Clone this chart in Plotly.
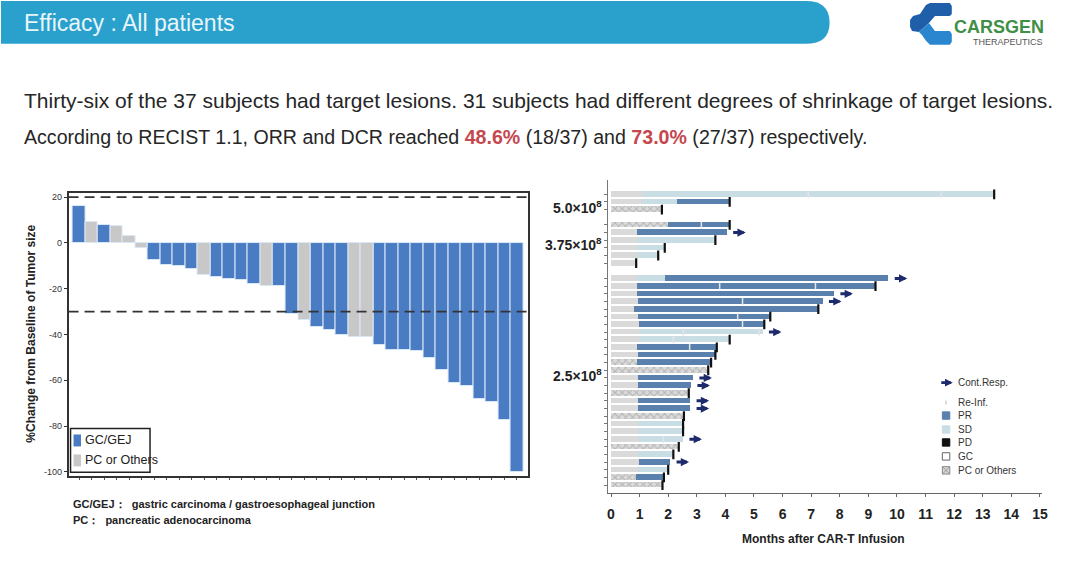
import plotly.graph_objects as go

W, H = 1080, 577
def px(x): return x / W
def py(y): return 1 - y / H

FONT = "Liberation Sans, Arial, sans-serif"
NARROW = "Liberation Sans Narrow, Arial Narrow, Liberation Sans, Arial, sans-serif"

# ---------------- Waterfall data ----------------
wf_values = [16, 9, 8, 7.6, 3.2, -2, -7.5, -9.8, -10.2, -11.4, -13.9, -15, -15.9, -16.1,
             -17.8, -19, -19, -31.1, -33.6, -36.7, -38.2, -40.4, -41.1, -41.1, -44.4,
             -46.6, -46.9, -47, -50.1, -55.6, -61.3, -62.4, -68.1, -69.3, -77.3, -100]
wf_types = ["GC", "PC", "GC", "PC", "PC", "PC", "GC", "GC", "GC", "GC", "PC", "GC",
            "GC", "GC", "GC", "PC", "GC", "GC", "PC", "GC", "GC", "GC", "PC", "PC",
            "GC", "GC", "GC", "GC", "GC", "GC", "GC", "GC", "GC", "GC", "GC", "GC"]
wf_type_names = {"GC": "GC/GEJ", "PC": "PC or Others"}
wf_ref_lines = [20, -30]
wf_yticks = [20, 0, -20, -40, -60, -80, -100]

# ---------------- Swimmer data ----------------
sw_dose_labels = ["5.0×10<sup>8</sup>", "3.75×10<sup>8</sup>", "2.5×10<sup>8</sup>"]
sw_dose_label_slot = [1.6, 6.5, 23.6]
sw_dose_counts = [3, 6, 28]
sw_kind = ["GC", "GC", "PC",
           "PC", "GC", "GC", "GC", "GC", "GC",
           "GC", "GC", "GC", "GC", "GC", "GC", "GC", "GC", "GC", "GC", "GC", "PC", "PC",
           "GC", "GC", "PC", "GC", "GC", "PC", "GC", "GC", "GC", "PC", "GC", "GC", "GC",
           "PC", "PC"]
sw_pre_end = [1.13, 1.1, 1.78,
              2.0, 0.9, 0.9, 0.9, 0.9, 0.88,
              0.9, 0.9, 0.9, 0.95, 0.8, 0.95, 0.97, 0.97, 0.97, 0.9, 0.95, 0.9, 3.4,
              0.95, 0.95, 2.72, 0.95, 0.95, 2.55, 0.95, 0.95, 0.95, 2.37, 0.95, 0.97, 0.95,
              0.87, 1.8]
sw_sd_end = [13.4, 2.3, 1.78,
             2.0, 0.9, 3.65, 1.88, 1.65, 0.88,
             1.9, 0.9, 0.9, 0.95, 0.8, 0.95, 0.97, 5.3, 4.15, 0.9, 0.95, 0.9, 3.4,
             0.95, 0.95, 2.72, 0.95, 0.95, 2.55, 2.52, 2.52, 2.52, 2.37, 2.18, 0.97, 2.0,
             0.87, 1.8]
sw_pr_end = [13.4, 4.15, 1.78,
             4.15, 4.05, 3.65, 1.88, 1.65, 0.88,
             9.7, 9.25, 7.8, 7.4, 7.25, 5.57, 5.36, 5.3, 4.15, 3.7, 3.65, 3.5, 3.4,
             2.87, 2.8, 2.72, 2.77, 2.77, 2.55, 2.52, 2.52, 2.52, 2.37, 2.18, 2.07, 2.0,
             1.85, 1.8]
sw_pd = [1, 1, 1,
         1, 0, 1, 1, 1, 1,
         0, 1, 0, 0, 1, 1, 1, 0, 1, 1, 1, 1, 1,
         0, 0, 1, 0, 0, 1, 1, 1, 0, 1, 1, 0, 1,
         1, 1]
sw_cont = [0, 0, 0,
           0, 1, 0, 0, 0, 0,
           1, 0, 1, 1, 0, 0, 0, 1, 0, 0, 0, 0, 0,
           1, 1, 0, 1, 1, 0, 0, 0, 1, 0, 0, 1, 0,
           0, 0]
sw_reinf_row = [0, 0, 3, 10, 10, 12, 14, 15, 16, 16, 17, 18, 30]
sw_reinf_x = [6.9, 11.55, 3.16, 3.8, 7.15, 4.6, 4.43, 4.6, 2.53, 5.18, 2.18, 2.75, 1.83]
sw_xticks = list(range(0, 16))
sw_legend = ["Cont.Resp.", "Re-Inf.", "PR", "SD", "PD", "GC", "PC or Others"]

# colours
C_BLUE = "#4a7cc3"
C_GRAY = "#c8c8c8"
C_PRE = "#dadada"
C_SD = "#c9dde5"
C_PR = "#5a80ad"
C_ARROW = "#1d2a6b"

# slot positions (one empty slot between dose groups)
sw_slot = []
s = 0
for n in sw_dose_counts:
    for _ in range(n):
        sw_slot.append(s)
        s += 1
    s += 1

fig = go.Figure()

# ---------- waterfall bars ----------
wf_x = list(range(1, len(wf_values) + 1))
for t, col in [("GC", C_BLUE), ("PC", C_GRAY)]:
    xs = [x for x, tt in zip(wf_x, wf_types) if tt == t]
    ys = [v for v, tt in zip(wf_values, wf_types) if tt == t]
    fig.add_trace(go.Bar(x=xs, y=ys, width=1, name=wf_type_names[t],
                         marker=dict(color=col, line=dict(color="#dbe8f6", width=1)),
                         xaxis="x", yaxis="y", showlegend=False))

# ---------- swimmer bars ----------
pattern_shapes = ["x" if k == "PC" else "" for k in sw_kind]
fig.add_trace(go.Bar(y=sw_slot, x=sw_pre_end, base=[0] * len(sw_slot), orientation="h",
                     width=0.74, xaxis="x2", yaxis="y2", showlegend=False,
                     marker=dict(color=C_PRE, line=dict(width=0),
                                 pattern=dict(shape=pattern_shapes, fillmode="overlay",
                                              fgcolor="#8a8a8a", size=5, solidity=0.35))))
fig.add_trace(go.Bar(y=sw_slot, x=[b - a for a, b in zip(sw_pre_end, sw_sd_end)],
                     base=sw_pre_end, orientation="h", width=0.74, xaxis="x2", yaxis="y2",
                     showlegend=False, marker=dict(color=C_SD, line=dict(width=0))))
fig.add_trace(go.Bar(y=sw_slot, x=[b - a for a, b in zip(sw_sd_end, sw_pr_end)],
                     base=sw_sd_end, orientation="h", width=0.74, xaxis="x2", yaxis="y2",
                     showlegend=False, marker=dict(color=C_PR, line=dict(width=0))))

# re-infusion marks
fig.add_trace(go.Scatter(x=sw_reinf_x, y=[sw_slot[r] for r in sw_reinf_row], mode="markers",
                         xaxis="x2", yaxis="y2", showlegend=False,
                         marker=dict(symbol="line-ns", size=5,
                                     line=dict(color="#e4e4e4", width=1.5))))
# PD marks
pd_x = [e for e, p in zip(sw_pr_end, sw_pd) if p]
pd_y = [sl for sl, p in zip(sw_slot, sw_pd) if p]
fig.add_trace(go.Scatter(x=pd_x, y=pd_y, mode="markers", xaxis="x2", yaxis="y2",
                         showlegend=False,
                         marker=dict(symbol="line-ns", size=7,
                                     line=dict(color="#111111", width=2.2))))

# continued-response arrows
annotations = []
for e, sl, c in zip(sw_pr_end, sw_slot, sw_cont):
    if c:
        annotations.append(dict(x=e + 0.66, y=sl, ax=e + 0.17, ay=sl, xref="x2", yref="y2",
                                axref="x2", ayref="y2", text="", showarrow=True,
                                arrowhead=2, arrowsize=0.55, arrowwidth=3,
                                arrowcolor=C_ARROW))

# dose labels
for lab, c in zip(sw_dose_labels, sw_dose_label_slot):
    annotations.append(dict(x=px(607), y=c, xref="paper", yref="y2", text="<b>%s</b>" % lab,
                            showarrow=False, xanchor="right", yanchor="middle",
                            font=dict(family=FONT, size=14, color="#222")))

shapes = []
# waterfall reference lines
for v in wf_ref_lines:
    shapes.append(dict(type="line", xref="x domain", yref="y", x0=0, x1=1, y0=v, y1=v,
                       line=dict(color="#333", width=1.8, dash="10px,6px"), layer="above"))

# ---------- header ----------
hb = 43
shapes.append(dict(type="path", xref="paper", yref="paper", fillcolor="#2aa0cc",
                   line=dict(width=0), layer="below",
                   path="M %f,%f L %f,%f Q %f,%f %f,%f Q %f,%f %f,%f L %f,%f Z" % (
                       px(0), py(0), px(810), py(0), px(834), py(0), px(834), py(hb / 2),
                       px(834), py(hb), px(810), py(hb), px(0), py(hb))))
annotations.append(dict(x=px(21), y=py(22), xref="paper", yref="paper", xanchor="left",
                        yanchor="middle", showarrow=False, text="Efficacy : All patients",
                        font=dict(family=FONT, size=23, color="#e8f6fb")))

# logo
def poly(points):
    return "M " + " L ".join("%f,%f" % (px(a), py(b)) for a, b in points) + " Z"
shapes.append(dict(type="path", xref="paper", yref="paper", fillcolor="#1f5faa",
                   line=dict(width=0),
                   path=poly([(935, 2), (955, 2), (957, 5), (957, 13), (955, 15), (940, 15),
                              (934, 22), (924, 31), (917, 30), (915, 26), (915, 19),
                              (918, 15), (925, 13), (931, 4)])))
shapes.append(dict(type="path", xref="paper", yref="paper", fillcolor="#2a87cf",
                   line=dict(width=0),
                   path=poly([(924, 31), (934, 22), (940, 30), (955, 30), (957, 33),
                              (957, 41), (955, 44), (935, 44), (931, 40), (927, 34)])))
annotations.append(dict(x=px(1052), y=py(26), xref="paper", yref="paper", xanchor="right",
                        yanchor="middle", showarrow=False, text="<b>CARSGEN</b>",
                        font=dict(family=FONT, size=18, color="#3f8f47")))
annotations.append(dict(x=px(1051), y=py(41), xref="paper", yref="paper", xanchor="right",
                        yanchor="middle", showarrow=False, text="THERAPEUTICS",
                        font=dict(family=FONT, size=9, color="#555")))

# body text
annotations.append(dict(x=px(21), y=py(100), xref="paper", yref="paper", xanchor="left",
                        yanchor="middle", showarrow=False,
                        text="Thirty-six of the 37 subjects had target lesions. 31 subjects had different degrees of shrinkage of target lesions.",
                        font=dict(family=FONT, size=21, color="#262626")))
annotations.append(dict(x=px(21), y=py(136), xref="paper", yref="paper", xanchor="left",
                        yanchor="middle", showarrow=False,
                        text="According to RECIST 1.1, ORR and DCR reached "
                             "<b><span style='color:#c4484e'>48.6%</span></b> (18/37) and "
                             "<b><span style='color:#c4484e'>73.0%</span></b> (27/37) respectively.",
                        font=dict(family=FONT, size=19.6, color="#262626")))

# waterfall y title
annotations.append(dict(x=px(30), y=py(334), xref="paper", yref="paper", textangle=-90,
                        xanchor="center", yanchor="middle",
                        showarrow=False, text="<b>%Change from Baseline of Tumor size</b>",
                        font=dict(family=FONT, size=12, color="#222")))

# waterfall legend (manual)
shapes.append(dict(type="rect", xref="paper", yref="paper", x0=px(70), x1=px(150),
                   y0=py(473), y1=py(429), line=dict(color="#222", width=1.5),
                   fillcolor="white", layer="above"))
for (t, col), yy in zip([("GC", C_BLUE), ("PC", C_GRAY)], [441, 461]):
    shapes.append(dict(type="rect", xref="paper", yref="paper", x0=px(73), x1=px(80.5),
                       y0=py(yy + 6), y1=py(yy - 6), fillcolor=col, line=dict(width=0),
                       layer="above"))
    annotations.append(dict(x=px(83), y=py(yy), xref="paper", yref="paper", xanchor="left",
                            yanchor="middle", showarrow=False, text=wf_type_names[t],
                            font=dict(family=NARROW, size=12.5, color="#222")))

# footnotes
annotations.append(dict(x=px(70), y=py(505), xref="paper", yref="paper", xanchor="left",
                        yanchor="middle", showarrow=False,
                        text="<b>GC/GEJ：  gastric carcinoma / gastroesophageal junction</b>",
                        font=dict(family=FONT, size=11, color="#222")))
annotations.append(dict(x=px(70), y=py(521), xref="paper", yref="paper", xanchor="left",
                        yanchor="middle", showarrow=False,
                        text="<b>PC：  pancreatic adenocarcinoma</b>",
                        font=dict(family=FONT, size=11, color="#222")))

# swimmer x title
annotations.append(dict(x=px(828), y=py(540), xref="paper", yref="paper", showarrow=False,
                        xanchor="center", yanchor="middle",
                        text="<b>Months after CAR-T Infusion</b>",
                        font=dict(family=FONT, size=12, color="#222")))

# swimmer legend (manual)
leg_y = [383, 403, 416, 430, 443, 457, 471]
for lab, yy in zip(sw_legend, leg_y):
    annotations.append(dict(x=px(961), y=py(yy), xref="paper", yref="paper", xanchor="left",
                            yanchor="middle", showarrow=False, text=lab,
                            font=dict(family=NARROW, size=10, color="#333")))
annotations.append(dict(x=px(958), y=py(383), xref="paper", yref="paper", ax=-13, ay=0,
                        text="", showarrow=True, arrowhead=2, arrowsize=0.6, arrowwidth=2.6,
                        arrowcolor=C_ARROW))
shapes.append(dict(type="line", xref="paper", yref="paper", x0=px(951), x1=px(951),
                   y0=py(405), y1=py(401), line=dict(color="#d0d0d0", width=1.5)))
for col, yy, lc in [(C_PR, 416, C_PR), (C_SD, 430, C_SD), ("#111", 443, "#111"),
                    ("white", 457, "#666"), ("#d8d8d8", 471, "#888")]:
    shapes.append(dict(type="rect", xref="paper", yref="paper", x0=px(947.5), x1=px(955),
                       y0=py(yy + 3.7), y1=py(yy - 3.7), fillcolor=col,
                       line=dict(color=lc, width=1)))
shapes.append(dict(type="path", xref="paper", yref="paper", line=dict(color="#888", width=0.8),
                   path="M %f,%f L %f,%f M %f,%f L %f,%f" % (px(947.5), py(467.3), px(955), py(474.7),
                                                         px(947.5), py(474.7), px(955), py(467.3))))

fig.update_layout(
    width=W, height=H, margin=dict(l=0, r=0, t=0, b=0),
    paper_bgcolor="white", plot_bgcolor="white",
    barmode="overlay", bargap=0, showlegend=False,
    font=dict(family=FONT, color="#222"),
    xaxis=dict(domain=[px(68), px(530)], range=[0.15, 36.85], anchor="y",
               tickvals=wf_x, showticklabels=False, ticks="outside", ticklen=2,
               tickcolor="#555", showline=True, mirror=True, linecolor="#333", linewidth=1.5,
               showgrid=False, zeroline=False),
    yaxis=dict(domain=[py(476.7), py(192.7)], range=[-101.8, 21.8], anchor="x",
               tickvals=wf_yticks, ticktext=[str(v) for v in wf_yticks],
               tickfont=dict(family=NARROW, size=9, color="#333"), ticks="outside", ticklen=3,
               tickcolor="#333", showline=True, mirror=True, linecolor="#333", linewidth=1.5,
               showgrid=False, zeroline=False),
    xaxis2=dict(domain=[px(611), px(1048)], range=[-0.104, 15.08], anchor="y2",
                tickvals=sw_xticks, tickfont=dict(family=FONT, size=14, color="#222", weight="bold"),
                ticks="outside", ticklen=3, tickcolor="#666", ticklabelstandoff=5,
                showline=True, linecolor="#666", linewidth=1.2, showgrid=False, zeroline=False),
    yaxis2=dict(domain=[py(494), py(180)], range=[39.08, -1.82], anchor="x2",
                tickvals=sw_slot, showticklabels=False, ticks="outside", ticklen=3,
                tickcolor="#777", showline=True, linecolor="#777", linewidth=1.2,
                showgrid=False, zeroline=False),
    shapes=shapes, annotations=annotations,
)

fig.write_html("out.html")
